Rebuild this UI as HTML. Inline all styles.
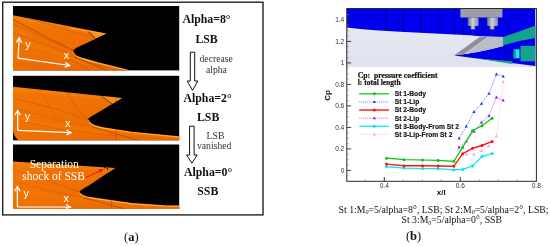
<!DOCTYPE html>
<html><head><meta charset="utf-8">
<style>
html,body{margin:0;padding:0;background:#fff;}
svg{display:block}
text{font-family:"Liberation Sans",sans-serif;}
.s{font-family:"Liberation Serif",serif;}
.sb{font-family:"Liberation Serif",serif;font-weight:bold;}
.ab{font-family:"Liberation Sans",sans-serif;font-weight:bold;}
</style></head><body>
<svg width="550" height="246" viewBox="0 0 550 246">
<defs>
<linearGradient id="og" x1="0" y1="0" x2="1" y2="0.6">
<stop offset="0" stop-color="#f27706"/><stop offset="0.45" stop-color="#ef7004"/><stop offset="1" stop-color="#ec6a03"/>
</linearGradient>
<filter id="bl" x="-5%" y="-5%" width="110%" height="110%"><feGaussianBlur stdDeviation="0.45"/></filter>
<filter id="bl2" x="-5%" y="-5%" width="110%" height="110%"><feGaussianBlur stdDeviation="1.2"/></filter>
<path id="s1" d="M13,15.2 L106.4,33.4 L90.5,41.2 L79,46.6 Q73.6,49.4 73,50.8 Q73.4,53.6 76.2,55.5 Q80,57.6 84.8,58.5 L98.2,62.2 L123,68.5 L131,70.4 L13,70.4 Z"/>
<path id="s2" d="M13,86.8 L122.2,97.9 L108,106.5 L96,113.8 Q88.8,117.6 88.2,119 Q89.2,123 95,125.3 L101.8,127 L131.7,131.7 L179.2,136.2 L179.2,140.3 L18.5,140.3 Q14,137 13,130.5 Z"/>
<path id="s3" d="M13,161.5 L115.4,168 L100,178 L88,186 Q80.4,190 79.5,191.6 Q80.6,194.6 86,196.2 L93.6,197.6 L131.7,203 L165,205.2 L179.2,205.5 L179.2,208.9 L13,208.9 Z"/>
<clipPath id="c1"><use href="#s1"/></clipPath>
<clipPath id="c2"><use href="#s2"/></clipPath>
<clipPath id="c3"><use href="#s3"/></clipPath>
</defs>
<rect width="550" height="246" fill="#fff"/>
<!-- left box -->
<rect x="2.7" y="2.2" width="260.3" height="212.7" fill="#fff" stroke="#222" stroke-width="1.4"/>

<!-- panel 1 -->
<g id="p1">
<rect x="13" y="6" width="166.2" height="64.4" fill="#000"/>
<use href="#s1" fill="url(#og)"/>
<g clip-path="url(#c1)" fill="none">
<g filter="url(#bl2)">
<path d="M13,17 L105,35" stroke="#ff9a20" stroke-width="3" opacity="0.3"/>
<path d="M13,40 L70,58 L120,72" stroke="#ff9018" stroke-width="4" opacity="0.2"/>
<path d="M13,64 L90,72" stroke="#e86000" stroke-width="5" opacity="0.4"/>
</g>
<g filter="url(#bl)">
<path d="M13,19.5 L47,37.5 L73,50" stroke="#b04800" stroke-width="1.3" opacity="0.65"/>
<path d="M13,24 L40,36 L74,51.5" stroke="#c05400" stroke-width="1" opacity="0.5"/>
<path d="M13,33 L50,46 L78,57" stroke="#c25800" stroke-width="1" opacity="0.5"/>
<path d="M13,44 L50,54 L100,70" stroke="#c86000" stroke-width="0.9" opacity="0.4"/>
<path d="M30,18.8 L90,37" stroke="#c05a00" stroke-width="0.9" opacity="0.5"/>
<path d="M88.2,31.5 L95.5,38.8" stroke="#6a2800" stroke-width="1" opacity="0.85"/>
<path d="M89,30.6 L106,33.9 L96,38 Z" fill="#ff9c28" stroke="none" opacity="0.7"/>
<path d="M70,28 L106.4,34" stroke="#ffb840" stroke-width="1.1" opacity="0.6"/>
<path d="M73,51.5 Q74,54.5 78,56.6 Q82,58.6 98,63 L131,71" stroke="#ffc040" stroke-width="1.2" opacity="0.85"/>
<path d="M74,57 L96,66 L108,71" stroke="#983c00" stroke-width="1" opacity="0.7"/>
<path d="M68,58 L90,71" stroke="#b85000" stroke-width="0.9" opacity="0.5"/>
<path d="M84,61 L118,71" stroke="#a84400" stroke-width="0.8" opacity="0.6"/>
</g>
</g>
<path d="M18,58.2 L19.2,37.9 M16.4,42.2 L19.2,37.7 L21.6,42.5" stroke="#fff" stroke-width="1.2" fill="none"/>
<path d="M18,58.2 L69.7,65.5 M65.3,62.6 L69.8,65.5 L64.6,67.3" stroke="#fff" stroke-width="1.2" fill="none"/>
<text x="25.2" y="47.8" font-size="11" fill="#fff">y</text>
<text x="63.8" y="59.4" font-size="11" fill="#fff">x</text>
</g>

<!-- panel 2 -->
<g id="p2">
<rect x="13" y="75.8" width="166.2" height="64.5" fill="#000"/>
<use href="#s2" fill="url(#og)"/>
<g clip-path="url(#c2)" fill="none">
<g filter="url(#bl2)">
<path d="M13,88.5 L121,99.5" stroke="#ff9a20" stroke-width="3" opacity="0.3"/>
<path d="M13,118 L70,128 L179,139" stroke="#ff9018" stroke-width="4" opacity="0.2"/>
</g>
<g filter="url(#bl)">
<path d="M39,89.5 L50,106.5 L56,122" stroke="#b85400" stroke-width="0.9" opacity="0.35"/>
<path d="M66.4,92.5 L76,107 L87.5,119" stroke="#b04c00" stroke-width="1" opacity="0.4"/>
<path d="M13,98 L60,110 L88,120" stroke="#c05a00" stroke-width="1" opacity="0.5"/>
<path d="M13,108 L55,119 L92,127" stroke="#c05a00" stroke-width="0.9" opacity="0.45"/>
<path d="M13,120 L60,129 L100,134.5 L179,140" stroke="#c05a00" stroke-width="0.9" opacity="0.45"/>
<path d="M101.8,96.5 L114,105.3" stroke="#6a2800" stroke-width="1" opacity="0.8"/>
<path d="M102.5,96 L122,98 L113,104 Z" fill="#ff9c28" stroke="none" opacity="0.6"/>
<path d="M88.4,120 Q90,124 96,126.2 L102,127.8 L132,132.5 L179.2,137" stroke="#ffc040" stroke-width="1.2" opacity="0.85"/>
<path d="M92,127 L120,135 L140,141" stroke="#983c00" stroke-width="0.9" opacity="0.6"/>
<path d="M116.2,98.5 L116.2,102 M116.2,128.5 L116.2,140.3" stroke="#e02010" stroke-width="0.6" opacity="0.8"/>
</g>
</g>
<path d="M17.7,130.3 L17.7,110.6 M14.9,115 L17.7,110.4 L20.5,115" stroke="#fff" stroke-width="1.2" fill="none"/>
<path d="M17.7,130.3 L71.2,132.6 M66.6,129.9 L71.3,132.6 L66.4,134.9" stroke="#fff" stroke-width="1.2" fill="none"/>
<text x="24.8" y="119.7" font-size="11" fill="#fff">y</text>
<text x="65" y="127.4" font-size="11" fill="#fff">x</text>
</g>

<!-- panel 3 -->
<g id="p3">
<rect x="13" y="144.5" width="166.2" height="64.4" fill="#000"/>
<use href="#s3" fill="url(#og)"/>
<g clip-path="url(#c3)" fill="none">
<g filter="url(#bl2)">
<path d="M13,163 L114,169.5" stroke="#ff9a20" stroke-width="3" opacity="0.3"/>
<path d="M13,190 L70,199 L179,208" stroke="#ff9018" stroke-width="4" opacity="0.2"/>
</g>
<g filter="url(#bl)">
<path d="M13,170 L50,181 L79,192" stroke="#c05a00" stroke-width="1" opacity="0.5"/>
<path d="M13,181 L50,191 L90,199.5 L179,207.6" stroke="#c05a00" stroke-width="0.9" opacity="0.45"/>
<path d="M45,164 L56,185 L60,200" stroke="#b85400" stroke-width="0.9" opacity="0.28"/>
<path d="M79.8,192.6 Q81.5,195.6 87,197 L94,198.4 L132,203.8 L165,206 L179.2,206.3" stroke="#ffc040" stroke-width="1.2" opacity="0.85"/>
<path d="M84,198 L110,205 L125,209" stroke="#983c00" stroke-width="0.9" opacity="0.6"/>
<path d="M111.3,199.5 L111.3,208.9" stroke="#e02010" stroke-width="0.6" opacity="0.8"/>
</g>
</g>
<path d="M17.4,207 L17.4,186.7 M14.6,191.2 L17.4,186.5 L20.2,191.2" stroke="#fff" stroke-width="1.2" fill="none"/>
<path d="M17.4,207 L70.5,207 M66,204.4 L70.6,207 L66,208.4" stroke="#fff" stroke-width="1.2" fill="none"/>
<text x="23.4" y="196.5" font-size="11" fill="#fff">y</text>
<text x="63.5" y="202.3" font-size="11" fill="#fff">x</text>
<text class="s" x="29.7" y="168" font-size="11.5" fill="#fff">Separation</text>
<text class="s" x="22.3" y="179.7" font-size="11.5" fill="#fff">shock of SSB</text>
<path d="M85.3,177.8 L100,170.8" stroke="#e01818" stroke-width="1" fill="none"/>
<path d="M103.8,168.9 L98.4,169.2 L100.2,173 Z" fill="#e01818"/>
<circle cx="104.5" cy="167.6" r="0.8" fill="#000"/><circle cx="107.4" cy="169.1" r="0.8" fill="#000"/>
</g>

<!-- labels -->
<text class="sb" x="182.4" y="22.6" font-size="11.8" fill="#111">Alpha=8°</text>
<text class="sb" x="195.4" y="43" font-size="11.8" fill="#111">LSB</text>
<text class="s" x="216.2" y="61.9" font-size="9.7" fill="#333" text-anchor="middle">decrease</text>
<text class="s" x="216.4" y="72.6" font-size="9.7" fill="#333" text-anchor="middle">alpha</text>
<path d="M190.3,52.2 L194.7,52.2 L194.7,81 L197.8,81 L192.5,90.4 L187.2,81 L190.3,81 Z" fill="#fff" stroke="#111" stroke-width="1"/>
<text class="sb" x="183.5" y="101.8" font-size="11.8" fill="#111">Alpha=2°</text>
<text class="sb" x="197" y="121.4" font-size="11.8" fill="#111">LSB</text>
<text class="s" x="215.5" y="138.7" font-size="9.7" fill="#333" text-anchor="middle">LSB</text>
<text class="s" x="214.2" y="148.5" font-size="9.7" fill="#333" text-anchor="middle">vanished</text>
<path d="M189.6,126.2 L194.1,126.2 L194.1,155 L197.2,155 L191.9,163.2 L186.6,155 L189.6,155 Z" fill="#fff" stroke="#111" stroke-width="1"/>
<text class="sb" x="184" y="175.8" font-size="11.8" fill="#111">Alpha=0°</text>
<text class="sb" x="197.3" y="195.4" font-size="11.8" fill="#111">SSB</text>
<text class="s" x="131.3" y="241.2" font-size="12.5" fill="#111" text-anchor="middle">(<tspan font-weight="bold">a</tspan>)</text>

<!-- right plot -->
<g id="plot">
<g id="cad">
<linearGradient id="lg" x1="0" y1="0" x2="0" y2="1"><stop offset="0" stop-color="#e7e9ef"/><stop offset="1" stop-color="#dfe2f0"/></linearGradient>
<linearGradient id="sg" x1="0" y1="0" x2="1" y2="0"><stop offset="0" stop-color="#6c6e7c"/><stop offset="0.45" stop-color="#cfd1da"/><stop offset="1" stop-color="#8c8e9c"/></linearGradient>
<rect x="346.8" y="8.5" width="188.4" height="58.5" fill="#0000ee"/>
<path d="M346.8,27.6 L360,29 L375,30.2 L400,31.8 L435,33.5 L470,35.2 L480,36.2 L505,37 L505,50 L535.2,50 L535.2,67 L346.8,67 Z" fill="url(#lg)"/>
<line x1="386.2" y1="8.5" x2="386.2" y2="30.7" stroke="#000030" stroke-width="0.5"/>
<line x1="403.5" y1="8.5" x2="403.5" y2="31.7" stroke="#000030" stroke-width="0.5"/>
<line x1="421" y1="8.5" x2="421" y2="32.7" stroke="#000030" stroke-width="0.5"/>
<line x1="438.4" y1="8.5" x2="438.4" y2="33.7" stroke="#000030" stroke-width="0.5"/>
<line x1="455.3" y1="8.5" x2="455.3" y2="34.7" stroke="#000030" stroke-width="0.5" stroke-dasharray="2,1.2"/>
<line x1="463.5" y1="8.5" x2="463.5" y2="35.2" stroke="#000030" stroke-width="0.5" stroke-dasharray="2,1.2"/>
<path d="M454,55.4 Q480,52.5 503.3,46 L503.3,37 L535.2,26 L535.2,66 Z" fill="#0000ee"/>
<line x1="464" y1="54.5" x2="464.6" y2="56.2" stroke="#000040" stroke-width="0.5" stroke-dasharray="2,1"/>
<line x1="473.6" y1="52.9" x2="474.20000000000005" y2="57.4" stroke="#000040" stroke-width="0.5" stroke-dasharray="2,1"/>
<line x1="482" y1="51.4" x2="482.6" y2="58.5" stroke="#000040" stroke-width="0.5" stroke-dasharray="2,1"/>
<line x1="489.8" y1="50.1" x2="490.40000000000003" y2="59.5" stroke="#000040" stroke-width="0.5" stroke-dasharray="2,1"/>
<line x1="497.5" y1="48.8" x2="498.1" y2="60.5" stroke="#000040" stroke-width="0.5" stroke-dasharray="2,1"/>
<line x1="504.3" y1="47.6" x2="504.90000000000003" y2="61.3" stroke="#000040" stroke-width="0.5" stroke-dasharray="2,1"/>
<path d="M478,58.4 L512.5,61.2 L512.5,64 Z" fill="#18a08c"/>
<path d="M454.2,55.2 L479.6,36.9 L488.3,36.9 L465,53.8 Z" fill="#8e909b"/>
<path d="M465,53.8 L488.3,36.9 L503.3,36.9 L503.3,46 Q480,52.5 456,55.2 Z" fill="#babcc8"/>
<path d="M465,53.8 L488.3,36.9" stroke="#d8dae4" stroke-width="0.5" fill="none"/>
<path d="M503.3,36.9 Q518,32 535.2,25.8 L535.2,38 Q518,41 503.3,45.2 Z" fill="#16a38d"/>
<rect x="505" y="46.5" width="15.5" height="14" fill="#0000d8"/>
<rect x="520.5" y="45.9" width="14.7" height="15.4" fill="#16a38d"/>
<rect x="513.7" y="49.3" width="5.8" height="9" fill="#20e8e0"/>
<rect x="513.7" y="49.3" width="2" height="9" fill="#0c9c98"/>
<path d="M502.4,17.5 L510.8,33" stroke="#000040" stroke-width="0.5" fill="none"/>
<line x1="483.4" y1="17.5" x2="482.6" y2="35.5" stroke="#000040" stroke-width="0.5"/>
<rect x="460.4" y="8.5" width="42" height="9.0" fill="#9b9dab"/>
<rect x="467.8" y="17.5" width="10.8" height="8.5" rx="1" fill="url(#sg)"/>
<rect x="470.5" y="26" width="4.6" height="3.4" fill="url(#sg)"/>
<line x1="472.8" y1="29.4" x2="472.8" y2="35.7" stroke="#404058" stroke-width="0.6"/>
<rect x="487.1" y="17.5" width="10.8" height="8.5" rx="1" fill="url(#sg)"/>
<rect x="489.8" y="26" width="4.6" height="3.4" fill="url(#sg)"/>
<line x1="492.1" y1="29.4" x2="492.1" y2="35.7" stroke="#404058" stroke-width="0.6"/>
</g>
<rect x="346.8" y="8.5" width="189.6" height="172.8" fill="none" stroke="#2a2a2a" stroke-width="1"/>
<path d="M346.8,175.78h2.3M346.8,165.03h2.3M346.8,159.65h2.3M346.8,154.28h2.3M346.8,143.53h2.3M346.8,138.15h2.3M346.8,132.78h2.3M346.8,122.03h2.3M346.8,116.65h2.3M346.8,111.28h2.3M346.8,100.53h2.3M346.8,95.15h2.3M346.8,89.77h2.3M346.8,79.03h2.3M346.8,73.65h2.3M346.8,68.28h2.3M346.8,57.53h2.3M346.8,52.15h2.3M346.8,46.78h2.3M346.8,36.03h2.3M346.8,30.65h2.3M346.8,25.28h2.3M346.8,14.53h2.3M365.30,181.3v-2.3M403.30,181.3v-2.3M422.30,181.3v-2.3M441.30,181.3v-2.3M479.30,181.3v-2.3M498.30,181.3v-2.3M517.30,181.3v-2.3" stroke="#8a8a8a" stroke-width="0.6" fill="none"/>
<path d="M346.8,170.40h4.4M346.8,148.90h4.4M346.8,127.40h4.4M346.8,105.90h4.4M346.8,84.40h4.4M346.8,62.90h4.4M346.8,41.40h4.4M346.8,19.90h4.4M384.30,181.3v-4.4M460.30,181.3v-4.4" stroke="#2a2a2a" stroke-width="0.9" fill="none"/>
<text x="344.3" y="172.8" font-size="6.6" fill="#333" text-anchor="end">0</text>
<text x="344.3" y="151.3" font-size="6.6" fill="#333" text-anchor="end">0.2</text>
<text x="344.3" y="129.8" font-size="6.6" fill="#333" text-anchor="end">0.4</text>
<text x="344.3" y="108.3" font-size="6.6" fill="#333" text-anchor="end">0.6</text>
<text x="344.3" y="86.8" font-size="6.6" fill="#333" text-anchor="end">0.8</text>
<text x="344.3" y="65.3" font-size="6.6" fill="#333" text-anchor="end">1</text>
<text x="344.3" y="43.8" font-size="6.6" fill="#333" text-anchor="end">1.2</text>
<text x="344.3" y="22.3" font-size="6.6" fill="#333" text-anchor="end">1.4</text>
<text x="384.3" y="187.6" font-size="6.6" fill="#333" text-anchor="middle">0.4</text>
<text x="460.3" y="187.6" font-size="6.6" fill="#333" text-anchor="middle">0.6</text>
<text x="536.3" y="187.6" font-size="6.6" fill="#333" text-anchor="middle">0.8</text>
<text class="ab" x="441.3" y="195.4" font-size="8" fill="#111" text-anchor="middle">x/l</text>
<text class="ab" transform="translate(330.4,95.5) rotate(-90)" font-size="8" fill="#111" text-anchor="middle">Cp</text>
<text class="sb" x="357.7" y="77.9" font-size="7.3" fill="#111" stroke="#111" stroke-width="0.2" textLength="80" lengthAdjust="spacingAndGlyphs" xml:space="preserve">Cp:  pressure coefficient</text>
<text class="sb" x="357.7" y="85.3" font-size="7.3" fill="#111" stroke="#111" stroke-width="0.2" textLength="43" lengthAdjust="spacingAndGlyphs">l: total length</text>
<polyline points="459,149 466.3,154.2 474,154.2 481.5,150.7 489,145.9 496.4,136 503.2,81.8" fill="none" stroke="#ff9cee" stroke-width="0.65" stroke-dasharray="1,1"/>
<path d="M459,147.3 L460.6,150.2 L457.4,150.2 Z" fill="#ff9cee"/>
<path d="M466.3,152.5 L467.90000000000003,155.39999999999998 L464.7,155.39999999999998 Z" fill="#ff9cee"/>
<path d="M474,152.5 L475.6,155.39999999999998 L472.4,155.39999999999998 Z" fill="#ff9cee"/>
<path d="M481.5,149.0 L483.1,151.89999999999998 L479.9,151.89999999999998 Z" fill="#ff9cee"/>
<path d="M489,144.20000000000002 L490.6,147.1 L487.4,147.1 Z" fill="#ff9cee"/>
<path d="M496.4,134.3 L498.0,137.2 L494.79999999999995,137.2 Z" fill="#ff9cee"/>
<path d="M503.2,80.1 L504.8,83.0 L501.59999999999997,83.0 Z" fill="#ff9cee"/>
<polyline points="459,147.1 466.3,141.4 474,131.3 481.5,122.3 489,115.8 496.4,97.2 503.2,100.3" fill="none" stroke="#a010f0" stroke-width="0.65" stroke-dasharray="1,1"/>
<path d="M459,145.4 L460.6,148.29999999999998 L457.4,148.29999999999998 Z" fill="#a010f0"/>
<path d="M466.3,139.70000000000002 L467.90000000000003,142.6 L464.7,142.6 Z" fill="#a010f0"/>
<path d="M474,129.60000000000002 L475.6,132.5 L472.4,132.5 Z" fill="#a010f0"/>
<path d="M481.5,120.6 L483.1,123.5 L479.9,123.5 Z" fill="#a010f0"/>
<path d="M489,114.1 L490.6,117.0 L487.4,117.0 Z" fill="#a010f0"/>
<path d="M496.4,95.5 L498.0,98.4 L494.79999999999995,98.4 Z" fill="#a010f0"/>
<path d="M503.2,98.6 L504.8,101.5 L501.59999999999997,101.5 Z" fill="#a010f0"/>
<polyline points="459,138.4 466.3,126.2 474,111.8 481.5,103.6 489,93.6 496.4,74.3 503.2,76.4" fill="none" stroke="#2a2aff" stroke-width="0.65" stroke-dasharray="1,1"/>
<path d="M459,136.70000000000002 L460.6,139.6 L457.4,139.6 Z" fill="#2a2aff"/>
<path d="M466.3,124.5 L467.90000000000003,127.4 L464.7,127.4 Z" fill="#2a2aff"/>
<path d="M474,110.1 L475.6,113.0 L472.4,113.0 Z" fill="#2a2aff"/>
<path d="M481.5,101.89999999999999 L483.1,104.8 L479.9,104.8 Z" fill="#2a2aff"/>
<path d="M489,91.89999999999999 L490.6,94.8 L487.4,94.8 Z" fill="#2a2aff"/>
<path d="M496.4,72.6 L498.0,75.5 L494.79999999999995,75.5 Z" fill="#2a2aff"/>
<path d="M503.2,74.7 L504.8,77.60000000000001 L501.59999999999997,77.60000000000001 Z" fill="#2a2aff"/>
<polyline points="386.5,166.6 404,168.1 422.5,168.5 438.2,168.7 453.8,169.9 462.6,169.4 472.5,166.1 482,156.6 492.1,153.5" fill="none" stroke="#00e4f4" stroke-width="1.2"/>
<circle cx="386.5" cy="166.6" r="1.5" fill="#00e4f4"/>
<circle cx="404" cy="168.1" r="1.5" fill="#00e4f4"/>
<circle cx="422.5" cy="168.5" r="1.5" fill="#00e4f4"/>
<circle cx="438.2" cy="168.7" r="1.5" fill="#00e4f4"/>
<circle cx="453.8" cy="169.9" r="1.5" fill="#00e4f4"/>
<circle cx="462.6" cy="169.4" r="1.5" fill="#00e4f4"/>
<circle cx="472.5" cy="166.1" r="1.5" fill="#00e4f4"/>
<circle cx="482" cy="156.6" r="1.5" fill="#00e4f4"/>
<circle cx="492.1" cy="153.5" r="1.5" fill="#00e4f4"/>
<polyline points="386.5,164.1 404,165.8 422.5,165.8 438.2,166 453.8,166.3 462.6,153.7 472.5,148.3 482,145.5 492.1,141.4" fill="none" stroke="#ff1414" stroke-width="1.4"/>
<circle cx="386.5" cy="164.1" r="1.5" fill="#ff1414"/>
<circle cx="404" cy="165.8" r="1.5" fill="#ff1414"/>
<circle cx="422.5" cy="165.8" r="1.5" fill="#ff1414"/>
<circle cx="438.2" cy="166" r="1.5" fill="#ff1414"/>
<circle cx="453.8" cy="166.3" r="1.5" fill="#ff1414"/>
<circle cx="462.6" cy="153.7" r="1.5" fill="#ff1414"/>
<circle cx="472.5" cy="148.3" r="1.5" fill="#ff1414"/>
<circle cx="482" cy="145.5" r="1.5" fill="#ff1414"/>
<circle cx="492.1" cy="141.4" r="1.5" fill="#ff1414"/>
<polyline points="386.5,158.2 404,159.7 422.5,160 438.2,160.4 453.8,161.3 462.6,147.4 472.5,130.8 482,125.8 492.1,118.3" fill="none" stroke="#00c814" stroke-width="1.2"/>
<circle cx="386.5" cy="158.2" r="1.5" fill="#00c814"/>
<circle cx="404" cy="159.7" r="1.5" fill="#00c814"/>
<circle cx="422.5" cy="160" r="1.5" fill="#00c814"/>
<circle cx="438.2" cy="160.4" r="1.5" fill="#00c814"/>
<circle cx="453.8" cy="161.3" r="1.5" fill="#00c814"/>
<circle cx="462.6" cy="147.4" r="1.5" fill="#00c814"/>
<circle cx="472.5" cy="130.8" r="1.5" fill="#00c814"/>
<circle cx="482" cy="125.8" r="1.5" fill="#00c814"/>
<circle cx="492.1" cy="118.3" r="1.5" fill="#00c814"/>
<line x1="359.2" y1="93.80" x2="389" y2="93.80" stroke="#00c814" stroke-width="1.2"/>
<circle cx="374.3" cy="93.8" r="1.5" fill="#00c814"/>
<text class="ab" x="394.8" y="96.2" font-size="6.7" fill="#111" stroke="#111" stroke-width="0.15">St 1-Body</text>
<line x1="359.2" y1="101.92" x2="389" y2="101.92" stroke="#2a2aff" stroke-width="0.65" stroke-dasharray="1,1"/>
<path d="M374.3,100.22 L375.90000000000003,103.12 L372.7,103.12 Z" fill="#2a2aff"/>
<text class="ab" x="394.8" y="104.3" font-size="6.7" fill="#111" stroke="#111" stroke-width="0.15">St 1-Lip</text>
<line x1="359.2" y1="110.04" x2="389" y2="110.04" stroke="#ff1414" stroke-width="1.4"/>
<circle cx="374.3" cy="110.04" r="1.5" fill="#ff1414"/>
<text class="ab" x="394.8" y="112.4" font-size="6.7" fill="#111" stroke="#111" stroke-width="0.15">St 2-Body</text>
<line x1="359.2" y1="118.16" x2="389" y2="118.16" stroke="#a010f0" stroke-width="0.65" stroke-dasharray="1,1"/>
<path d="M374.3,116.46 L375.90000000000003,119.36 L372.7,119.36 Z" fill="#a010f0"/>
<text class="ab" x="394.8" y="120.6" font-size="6.7" fill="#111" stroke="#111" stroke-width="0.15">St 2-Lip</text>
<line x1="359.2" y1="126.28" x2="389" y2="126.28" stroke="#00e4f4" stroke-width="1.2"/>
<circle cx="374.3" cy="126.28" r="1.5" fill="#00e4f4"/>
<text class="ab" x="394.8" y="128.7" font-size="6.7" fill="#111" stroke="#111" stroke-width="0.15">St 3-Body-From St 2</text>
<line x1="359.2" y1="134.40" x2="389" y2="134.40" stroke="#ff9cee" stroke-width="0.65" stroke-dasharray="1,1"/>
<path d="M374.3,132.70000000000002 L375.90000000000003,135.6 L372.7,135.6 Z" fill="#ff9cee"/>
<text class="ab" x="394.8" y="136.8" font-size="6.7" fill="#111" stroke="#111" stroke-width="0.15">St 3-Lip-From St 2</text>
</g>
<text class="s" x="338.6" y="212.7" font-size="9.75" fill="#111">St 1:M<tspan font-size="6" dy="1.5" font-style="italic">0</tspan><tspan dy="-1.5">=5/alpha=8°, LSB; St 2:M</tspan><tspan font-size="6" dy="1.5" font-style="italic">0</tspan><tspan dy="-1.5">=5/alpha=2°, LSB;</tspan></text>
<text class="s" x="401.5" y="223" font-size="9.75" fill="#111">St 3:M<tspan font-size="6" dy="1.5" font-style="italic">0</tspan><tspan dy="-1.5">=5/alpha=0°, SSB</tspan></text>
<text class="s" x="413.6" y="240" font-size="12.5" fill="#111" text-anchor="middle">(<tspan font-weight="bold">b</tspan>)</text>
</svg>
</body></html>
